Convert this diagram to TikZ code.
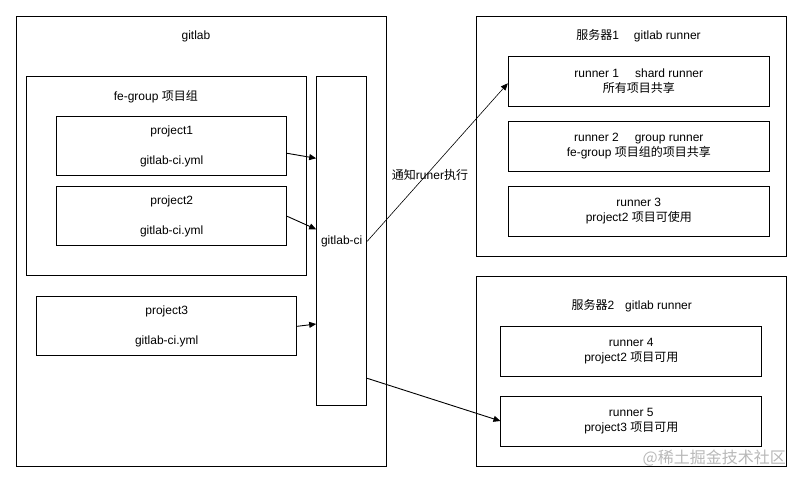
\documentclass[tikz,border=0pt]{standalone}
\usepackage{fontspec}
\setmainfont{Liberation Sans}
\newfontfamily\cjk{Noto Sans CJK SC}
\usetikzlibrary{arrows.meta}
\begin{document}
\begin{tikzpicture}[x=1pt,y=-1pt,
  box/.style={draw,line width=1pt,inner sep=0pt,align=center,font=\fontsize{12}{15}\selectfont},
  txt/.style={inner sep=0pt,align=center,font=\fontsize{12}{15}\selectfont},
  arr/.style={line width=0.9pt,-{Triangle[length=7pt,width=6pt]}},
  thinarr/.style={line width=0.6pt,-{Triangle[length=7pt,width=6pt]}}]
\useasboundingbox (0,0) rectangle (803,483);
% left: gitlab
\node[box,minimum width=370pt,minimum height=450pt] (gitlab) at (201.7,241) {};
\node[txt] (gitlabT) at (196,36) {gitlab};
\node[box,minimum width=280pt,minimum height=199.3pt] (fe) at (166.7,176.3) {};
\node[txt] (feT) at (155.8,96.7) {fe-group {\cjk 项目组}};
\node[box,minimum width=230pt,minimum height=59.3pt] (p1) at (171.7,146.3) {project1\\[15pt]gitlab-ci.yml};
\node[box,minimum width=230pt,minimum height=59.3pt] (p2) at (171.7,216.3) {project2\\[15pt]gitlab-ci.yml};
\node[box,minimum width=260pt,minimum height=59.3pt] (p3) at (166.7,326.3) {project3\\[15pt]gitlab-ci.yml};
\node[box,minimum width=50pt,minimum height=329.3pt] (ci) at (341.7,241.3) {gitlab-ci};
% right: server 1
\node[box,minimum width=310pt,minimum height=240pt] (s1) at (631.7,136) {};
\node[txt] (s1T) at (638.5,36) {{\cjk 服务器}1\hspace{15pt}gitlab runner};
\node[box,minimum width=261pt,minimum height=50pt] (r1) at (638.8,81) {runner 1\hspace{16pt}shard runner\\{\cjk 所有项目共享}};
\node[box,minimum width=261pt,minimum height=50pt] (r2) at (638.8,146) {runner 2\hspace{16pt}group runner\\fe-group {\cjk 项目组的项目共享}};
\node[box,minimum width=261pt,minimum height=50pt] (r3) at (638.8,211) {runner 3\\project2 {\cjk 项目可使用}};
% right: server 2
\node[box,minimum width=310pt,minimum height=190pt] (s2) at (631.7,371) {};
\node[txt] (s2T) at (631.7,306) {{\cjk 服务器}2\hspace{11pt}gitlab runner};
\node[box,minimum width=260.7pt,minimum height=50pt] (r4) at (631.3,351) {runner 4\\project2 {\cjk 项目可用}};
\node[box,minimum width=260.7pt,minimum height=50pt] (r5) at (631.3,421) {runner 5\\project3 {\cjk 项目可用}};
% connectors
\draw[arr] ([yshift=-7pt]p1.east) -- ([yshift=83pt]ci.west);
\draw[arr] (p2.east) -- ([yshift=12pt]ci.west);
\draw[arr] (p3.east) -- ([yshift=-82.7pt]ci.west);
\draw[thinarr] (ci.east) -- ([yshift=-2.3pt]r1.west);
\draw[arr] ([yshift=-137pt]ci.east) -- (r5.west);
\node[txt] (lbl) at (430,175) {{\cjk 通知}runer{\cjk 执行}};
% watermark
\node[inner sep=0pt,text=black!28,font=\cjk\fontsize{16}{16}\selectfont,anchor=east] (wm) at (786,458) {@稀土掘金技术社区};
\end{tikzpicture}
\end{document}
